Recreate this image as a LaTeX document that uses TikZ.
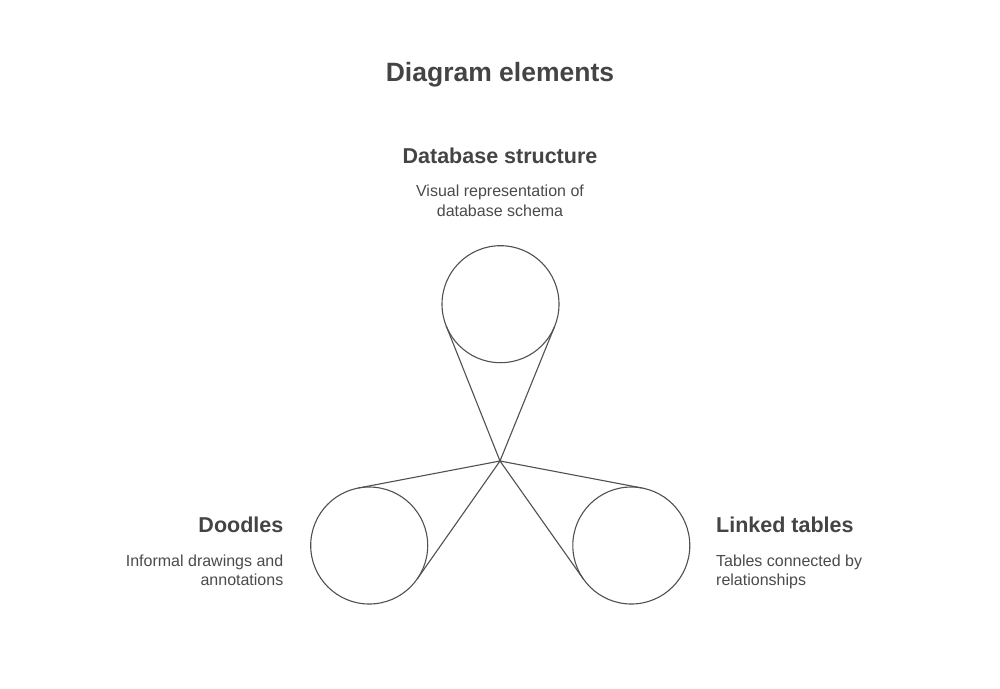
\documentclass[tikz,border=0pt]{standalone}
\usepackage{fontspec}
\setmainfont{Liberation Sans}
\usetikzlibrary{calc}
\definecolor{ink}{HTML}{444444}
\definecolor{desc}{HTML}{4A4A4A}
\definecolor{linecol}{HTML}{505050}
\tikzset{
  ring/.style={circle, draw=linecol, line width=1.1pt, minimum size=117pt, inner sep=0pt, outer sep=0pt},
  tie/.style={draw=linecol, line width=1.1pt},
  titletext/.style={font=\bfseries\fontsize{26.5}{30}\selectfont, text=ink, inner sep=0pt, anchor=base},
  headtext/.style={font=\bfseries\fontsize{21.5}{25}\selectfont, text=ink, inner sep=0pt},
  desctext/.style={font=\fontsize{16}{19.5}\selectfont, text=desc, inner sep=0pt},
}
\begin{document}
\begin{tikzpicture}[x=1pt,y=-1pt]
\useasboundingbox (0,0) rectangle (1000,688);
\node[titletext] (title) at (500,81.7) {Diagram elements};

\coordinate (hub) at (500,461);
\node[ring] (top) at (500.5,304.2) {};
\node[ring] (left) at (369.2,545.5) {};
\node[ring] (right) at (631.3,545.5) {};

\draw[tie] (tangent cs:node=top,point={(hub)},solution=1) -- (hub) -- (tangent cs:node=top,point={(hub)},solution=2);
\draw[tie] (tangent cs:node=left,point={(hub)},solution=1) -- (hub) -- (tangent cs:node=left,point={(hub)},solution=2);
\draw[tie] (tangent cs:node=right,point={(hub)},solution=1) -- (hub) -- (tangent cs:node=right,point={(hub)},solution=2);

\node[headtext, anchor=base] (tophead) at (500,163.3) {Database structure};
\node[desctext, anchor=base, align=center] (topdesc) at (500,216) {Visual representation of\\database schema};

\node[headtext, anchor=base east] (lefthead) at (283.5,532.7) {Doodles};
\node[desctext, anchor=base east, align=right] (leftdesc) at (283.5,585.5) {Informal drawings and\\annotations};

\node[headtext, anchor=base west] (righthead) at (716,532.7) {Linked tables};
\node[desctext, anchor=base west, align=left] (rightdesc) at (716,585.5) {Tables connected by\\relationships};
\end{tikzpicture}
\end{document}
